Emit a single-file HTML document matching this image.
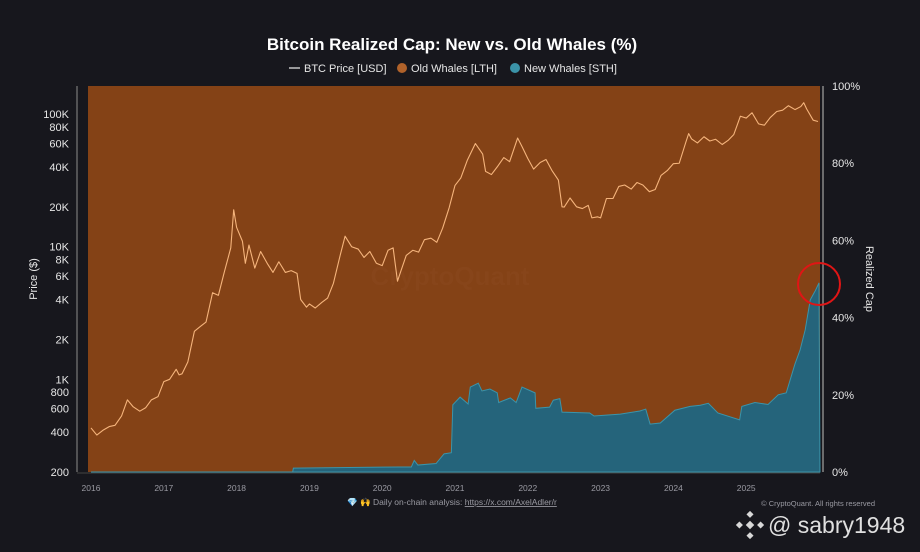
<!DOCTYPE html>
<html><head><meta charset="utf-8"><style>
body{margin:0;background:#17171d;width:920px;height:552px;overflow:hidden;font-family:"Liberation Sans",sans-serif}
svg{display:block}
</style></head><body>
<svg id="c" width="920" height="552" viewBox="0 0 920 552" xmlns="http://www.w3.org/2000/svg">
<rect width="920" height="552" fill="#17171d"/>
<text x="452" y="50" text-anchor="middle" fill="#fff" font-size="17" font-weight="bold">Bitcoin Realized Cap: New vs. Old Whales (%)</text>
<g font-size="11" fill="#e6e6e6">
<line x1="289" y1="68" x2="300" y2="68" stroke="#eee" stroke-width="1.2"/>
<text x="304" y="72">BTC Price [USD]</text>
<circle cx="402" cy="68" r="5" fill="#b0622a"/>
<text x="411" y="72">Old Whales [LTH]</text>
<circle cx="515" cy="68" r="5" fill="#3b93a8"/>
<text x="524" y="72">New Whales [STH]</text>
</g>
<g id="plot"></g>
<text x="452" y="505" text-anchor="middle" fill="#9a9aa2" font-size="8.5">💎 🙌 Daily on-chain analysis: <tspan text-decoration="underline">https://x.com/AxelAdler/r</tspan></text>
<text x="875" y="506" text-anchor="end" fill="#9a9aa2" font-size="7.5">© CryptoQuant. All rights reserved</text>
<g>
<g transform="translate(750,525) rotate(45)" fill="#d8d8d8"><rect x="-3" y="-3" width="6" height="6"/><rect x="-10" y="-10" width="5" height="5"/><rect x="5" y="5" width="5" height="5"/><rect x="-10" y="5" width="5" height="5"/><rect x="5" y="-10" width="5" height="5"/></g>
<text x="768" y="533" fill="#e0e0e0" font-size="23">@ sabry1948</text>
</g>
</svg>
<script>
const priceDates=[2016.0,2016.08,2016.17,2016.25,2016.33,2016.42,2016.5,2016.58,2016.67,2016.75,2016.83,2016.92,2017.0,2017.08,2017.17,2017.21,2017.25,2017.33,2017.42,2017.5,2017.58,2017.67,2017.75,2017.83,2017.92,2017.96,2018.0,2018.08,2018.12,2018.17,2018.25,2018.33,2018.42,2018.5,2018.58,2018.67,2018.75,2018.83,2018.88,2018.96,2019.0,2019.08,2019.17,2019.25,2019.33,2019.42,2019.49,2019.58,2019.67,2019.75,2019.83,2019.92,2020.0,2020.08,2020.15,2020.21,2020.25,2020.33,2020.42,2020.5,2020.58,2020.67,2020.75,2020.83,2020.92,2021.0,2021.08,2021.17,2021.28,2021.38,2021.42,2021.5,2021.58,2021.67,2021.75,2021.86,2021.92,2022.0,2022.08,2022.17,2022.25,2022.33,2022.42,2022.47,2022.5,2022.58,2022.67,2022.75,2022.83,2022.88,2022.96,2023.0,2023.08,2023.17,2023.25,2023.33,2023.42,2023.5,2023.58,2023.67,2023.75,2023.83,2023.92,2024.0,2024.08,2024.17,2024.21,2024.25,2024.33,2024.42,2024.5,2024.58,2024.67,2024.75,2024.83,2024.92,2025.0,2025.08,2025.17,2025.25,2025.33,2025.42,2025.5,2025.58,2025.67,2025.75,2025.79,2025.83,2025.92,2026.0];
const priceValues=[430,380,415,440,450,530,700,620,575,610,700,740,960,1000,1190,1080,1100,1350,2300,2500,2700,4500,4300,6400,9800,19000,14000,11000,7500,10300,6900,9200,7500,6400,7700,6400,6600,6300,4000,3500,3700,3450,3800,4100,5300,8500,12000,10000,9600,8300,9200,7500,7200,9400,9800,5500,6400,8600,9400,9100,11300,11600,10800,13800,19700,29000,33000,45000,60000,50000,37000,35000,40000,47000,43800,66000,57000,46300,38500,43200,45500,37700,31800,20000,19900,23300,20000,19400,20500,16500,16800,16500,23100,23100,28500,29200,27200,30500,29200,26000,27000,34500,37700,42300,42600,61200,71300,65000,60600,67500,62700,64600,59000,63300,70200,96400,93400,102400,84400,82500,94200,104600,107100,115700,108200,114000,122000,109500,90000,88000];
const sthDates=[2016.0,2018.77,2018.78,2020.24,2020.4,2020.44,2020.49,2020.74,2020.85,2020.95,2020.97,2021.07,2021.18,2021.21,2021.32,2021.37,2021.48,2021.58,2021.6,2021.76,2021.84,2021.92,2022.1,2022.11,2022.3,2022.35,2022.44,2022.47,2022.85,2022.91,2023.27,2023.54,2023.62,2023.68,2023.82,2024.02,2024.23,2024.37,2024.48,2024.61,2024.91,2024.94,2025.12,2025.3,2025.44,2025.55,2025.67,2025.74,2025.81,2025.88,2025.95,2026.0];
const sthValues=[0,0,1.0,1.3,1.3,3.0,1.8,2.2,4.7,5,17.4,19.4,17.6,22,23,21,21.5,20.5,18,19.2,18,22,20.5,16.5,16.8,18.6,19,15.5,15.3,14.5,15,15.8,16.3,12.4,12.7,16,17,17.3,17.8,15.3,13.5,17,18,17.5,20,20.5,28,31.6,36.8,44.6,47,49];
const yTicks=[200,400,600,800,1000,2000,4000,6000,8000,10000,20000,40000,60000,80000,100000];
const yTickLabels=["200","400","600","800","1K","2K","4K","6K","8K","10K","20K","40K","60K","80K","100K"];
const pctTicks=[0,20,40,60,80,100];
const xTicks=[2016,2017,2018,2019,2020,2021,2022,2023,2024,2025];

const L=88,R=820,T=86,B=472;
const x=t=>91+(t-2016)*72.8;
const yP=v=>B-Math.log10(v/200)*132.6;
const yS=p=>B-p/100*(B-T);
const NS="http://www.w3.org/2000/svg";
const g=document.getElementById('plot');
function mk(tag,attrs,parent){const e=document.createElementNS(NS,tag);for(const k in attrs)e.setAttribute(k,attrs[k]);(parent||g).appendChild(e);return e;}

const bg=mk('rect',{x:L,y:T,width:R-L,height:B-T,fill:'#844216'});



let d=`M${x(sthDates[0])},${B}`;
sthDates.forEach((t,i)=>{d+=`L${Math.min(x(t),R)},${yS(sthValues[i])}`;});
d+=`L${R},${B}Z`;
const sa=mk('path',{d:d,fill:'#25647b',stroke:'#3a94aa','stroke-width':1});



const wm=mk('text',{x:450,y:285,'text-anchor':'middle',fill:'#87451a','font-size':26,'font-weight':'bold'});
wm.textContent='CryptoQuant';



let pd='';
priceDates.forEach((t,i)=>{pd+=(i?'L':'M')+Math.min(x(t),R-2)+','+yP(priceValues[i]);});
const pl=mk('path',{d:pd,fill:'none',stroke:'#f5b47c','stroke-width':1.1,'stroke-linejoin':'round'});



const la=mk('line',{x1:77,y1:T,x2:77,y2:B,stroke:'#666','stroke-width':1.5});


const ra=mk('line',{x1:823,y1:T,x2:823,y2:B,stroke:'#888','stroke-width':1.5});


const ba=mk('line',{x1:77,y1:B+1,x2:R,y2:B+1,stroke:'#444','stroke-width':1});



yTicks.forEach((v,i)=>{
  const t=mk('text',{x:69,y:yP(v)+4,'text-anchor':'end',fill:'#e6e6e6','font-size':11});
  t.textContent=yTickLabels[i];
  
  
});
pctTicks.forEach(p=>{
  const t=mk('text',{x:832,y:yS(p)+4,fill:'#e6e6e6','font-size':11});
  t.textContent=p+'%';
  
  
});
xTicks.forEach(yr=>{
  const t=mk('text',{x:x(yr),y:491,'text-anchor':'middle',fill:'#9a9aa2','font-size':8.5});
  t.textContent=yr;
  
  
});
const lt=mk('text',{transform:'translate(37,279) rotate(-90)','text-anchor':'middle',fill:'#e6e6e6','font-size':11});
lt.textContent='Price ($)';


const rt=mk('text',{transform:'translate(866,279) rotate(90)','text-anchor':'middle',fill:'#e6e6e6','font-size':11});
rt.textContent='Realized Cap';


const rc=mk('circle',{cx:819,cy:284,r:21,fill:'none',stroke:'#e01515','stroke-width':2});


</script>
</body></html>
